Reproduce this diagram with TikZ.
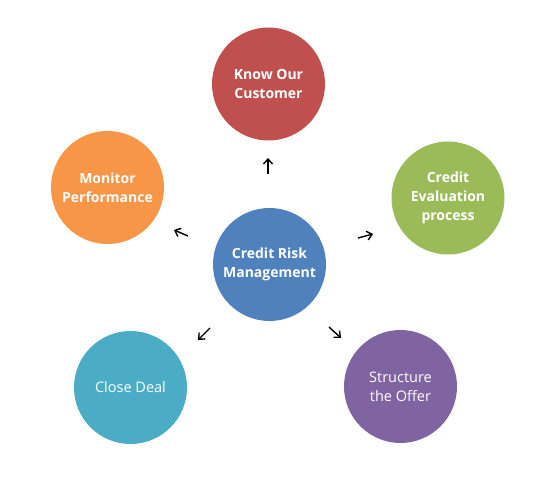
\documentclass[tikz,border=0pt]{standalone}
\usepackage{fontspec}
\setmainfont{Open Sans}
\usetikzlibrary{arrows.meta}
\definecolor{cblue}{HTML}{4F81BD}
\definecolor{cred}{HTML}{C0504D}
\definecolor{cgreen}{HTML}{9BBB59}
\definecolor{cpurple}{HTML}{8064A2}
\definecolor{cteal}{HTML}{4BACC6}
\definecolor{corange}{HTML}{F79646}
\begin{document}
\begin{tikzpicture}[x=1pt,y=-1pt,
  bubble/.style={circle,minimum size=113pt,inner sep=0pt,text=white,align=center,
    font=\fontsize{14}{19}\selectfont\bfseries},
  thin bubble/.style={bubble,font=\fontsize{14.5}{19}\selectfont},
  pointer/.style={-{Straight Barb[length=5pt,width=9pt]},line width=1.4pt,black}]
\useasboundingbox (0,0) rectangle (544,486);
\node[bubble,fill=cblue] (crm) at (269.5,264.5) {Credit Risk\\Management};
\node[bubble,fill=cred] (know) at (268.5,84) {Know Our\\Customer};
\node[bubble,fill=cgreen] (eval) at (448,198) {Credit\\Evaluation\\process};
\node[thin bubble,fill=cpurple] (offer) at (400.5,386.5) {Structure\\the Offer};
\node[thin bubble,fill=cteal] (close) at (130.5,387.5) {Close Deal};
\node[bubble,fill=corange] (monitor) at (107.5,187.5) {Monitor\\Performance};
\coordinate (a1s) at (268,174); \coordinate (a1e) at (268,158);
\coordinate (a2s) at (188,236); \coordinate (a2e) at (174,230);
\coordinate (a3s) at (358,238); \coordinate (a3e) at (373,234);
\coordinate (a4s) at (210,328); \coordinate (a4e) at (198,340);
\coordinate (a5s) at (329,327); \coordinate (a5e) at (341,338);
\draw[pointer] (a1s) -- (a1e);
\draw[pointer] (a2s) -- (a2e);
\draw[pointer] (a3s) -- (a3e);
\draw[pointer] (a4s) -- (a4e);
\draw[pointer] (a5s) -- (a5e);
\end{tikzpicture}
\end{document}
